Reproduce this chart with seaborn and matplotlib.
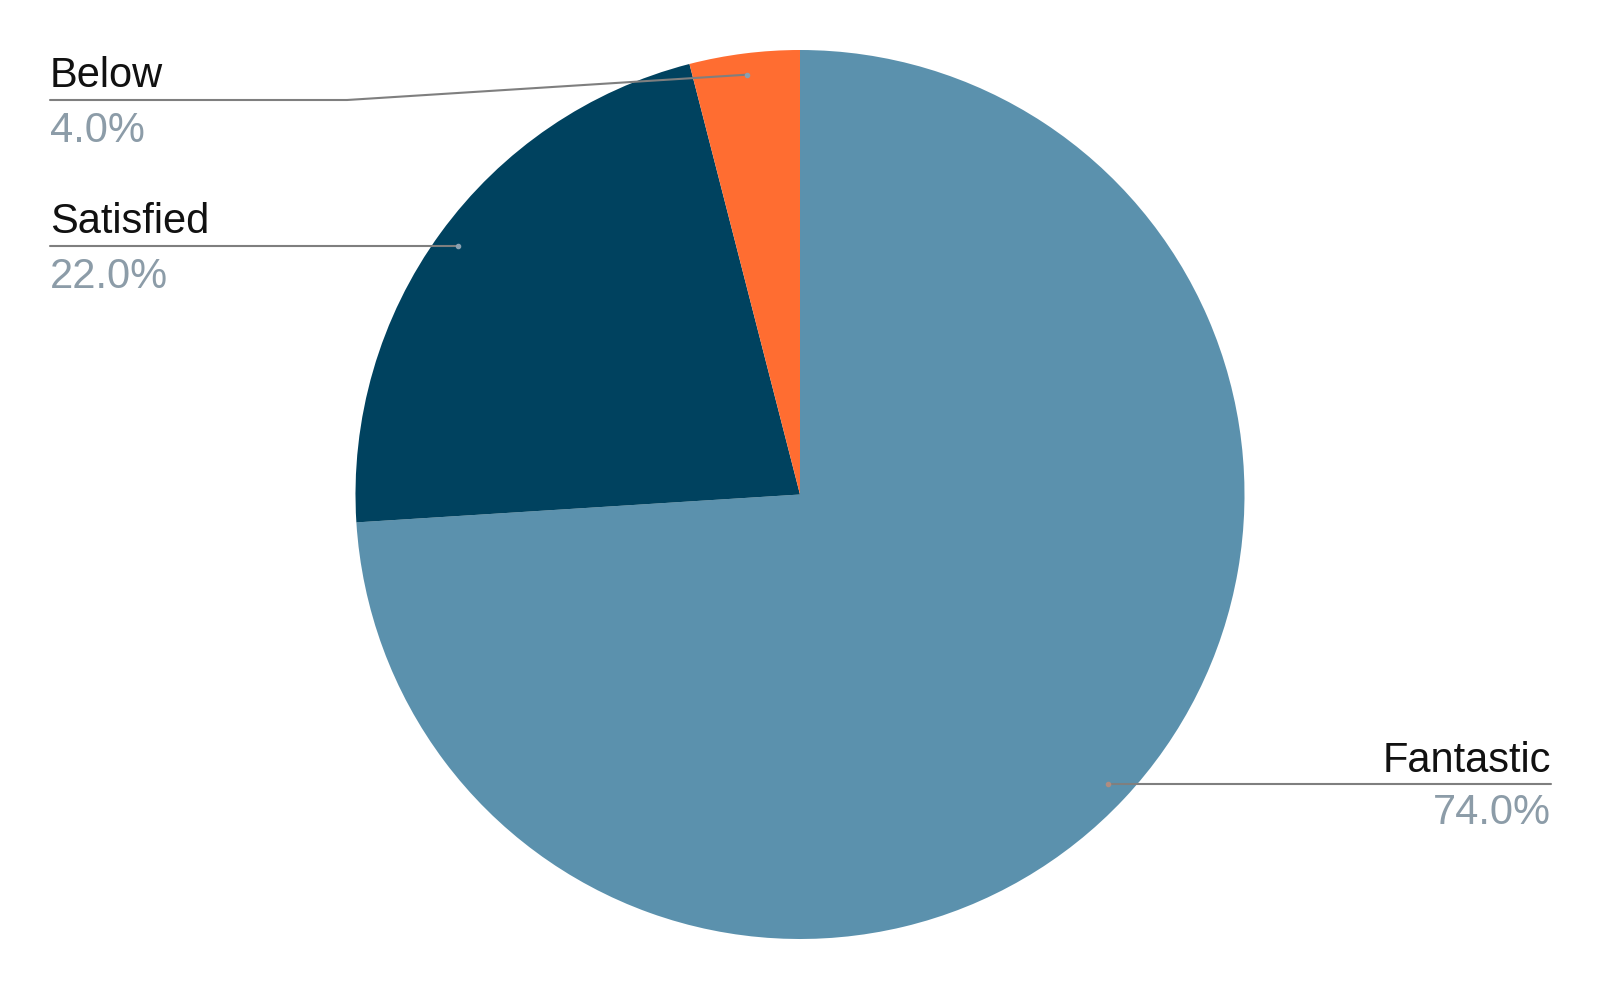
import numpy as np
import matplotlib.pyplot as plt
import seaborn as sns

# data
labels = ['Fantastic', 'Satisfied', 'Below']
values = [74.0, 22.0, 4.0]
colors = ['#5b91ad', '#00425f', '#ff6d31']

sns.set_theme(style='white')
plt.rcParams['font.family'] = ['Liberation Sans', 'DejaVu Sans']

W, H = 1600, 990
fig = plt.figure(figsize=(16, 9.9), dpi=100)
ax = fig.add_axes([0, 0, 1, 1])

# pie in pixel coordinates (y counted from bottom)
cx, cy, r = 800, H - 494.5, 444.5
ax.pie(values, colors=colors, startangle=90, counterclock=False,
       center=(cx, cy), radius=r, wedgeprops=dict(linewidth=0))
ax.set_xlim(0, W)
ax.set_ylim(0, H)
ax.set_aspect('equal')
ax.axis('off')

# anchor point on each slice (middle angle, ~95% of radius)
total = sum(values)
start = 90.0
anchors = []
for v in values:
    sweep = 360.0 * v / total
    mid = np.deg2rad(start - sweep / 2)
    anchors.append((cx + 0.952 * r * np.cos(mid), cy + 0.952 * r * np.sin(mid)))
    start -= sweep

line_c = '#7f7f7f'
pct_c = '#8c9ca8'
fs = 30

def y(px):
    return H - px

# Fantastic, right side
ax_, ay_ = anchors[0]
ax.plot([ax_, 1551], [ay_, ay_], color=line_c, lw=1.5)
ax.plot(ax_, ay_, 'o', ms=3, color='#b08c80')
ax.text(1551, y(772), labels[0], ha='right', va='baseline', fontsize=fs, color='#111111')
ax.text(1551, y(824), f'{values[0]:.1f}%', ha='right', va='baseline', fontsize=fs, color=pct_c)

# Satisfied, left side
sx, sy = anchors[1]
ax.plot([50, sx], [sy, sy], color=line_c, lw=1.5)
ax.plot(sx, sy, 'o', ms=3, color='#8aa0b0')
ax.text(50, y(233), labels[1], ha='left', va='baseline', fontsize=fs, color='#111111')
ax.text(50, y(288), f'{values[1]:.1f}%', ha='left', va='baseline', fontsize=fs, color=pct_c)

# Below, left side with bent leader
bx, by = anchors[2]
ax.plot([50, 347, bx], [y(100), y(100), by], color=line_c, lw=1.5)
ax.plot(bx, by, 'o', ms=3, color='#8aa0b0')
ax.text(50, y(87), labels[2], ha='left', va='baseline', fontsize=fs, color='#111111')
ax.text(50, y(142), f'{values[2]:.1f}%', ha='left', va='baseline', fontsize=fs, color=pct_c)

fig.savefig('out.png', dpi=100, facecolor='white')
